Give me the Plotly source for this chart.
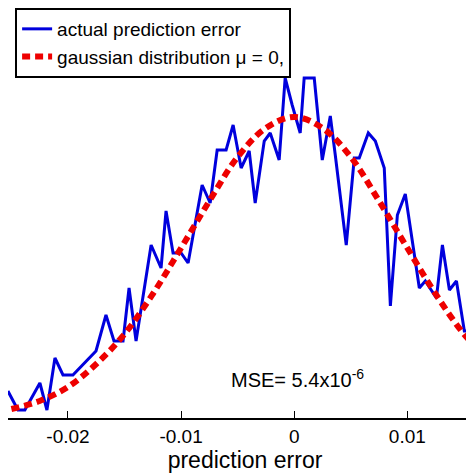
import plotly.graph_objects as go

# actual prediction error histogram
err = [-0.02531, -0.02442, -0.02381, -0.02248, -0.02186, -0.02115, -0.02044, -0.01956, -0.01752, -0.01664,
       -0.01593, -0.01513, -0.01460, -0.01398, -0.01265, -0.01177, -0.01133, -0.01071, -0.01000, -0.00938,
       -0.00814, -0.00743, -0.00681, -0.00602, -0.00540, -0.00469, -0.00398, -0.00345, -0.00265, -0.00212,
       -0.00133, -0.00080, -0.00018, 0.00053, 0.00088, 0.00177, 0.00248, 0.00319, 0.00363, 0.00460,
       0.00531, 0.00575, 0.00655, 0.00717, 0.00796, 0.00850, 0.00912, 0.00982, 0.01106, 0.01159,
       0.01257, 0.01310, 0.01372, 0.01434, 0.01504, 0.01566, 0.01628, 0.01664]
counts = [27, 8, 8, 35, 8, 60, 43, 43, 67, 103,
          77, 77, 130, 77, 173, 150, 207, 165, 165, 155,
          233, 215, 268, 268, 293, 250, 267, 215, 277, 285,
          258, 340, 313, 285, 340, 340, 258, 302, 263, 173,
          260, 260, 285, 277, 250, 112, 203, 224, 130, 137,
          120, 173, 128, 137, 87, 87, 103, 90]

# gaussian fit, sampled
gx = [-0.025, -0.0225, -0.02, -0.0175, -0.015, -0.0125, -0.01, -0.0075, -0.005, -0.0025,
      0.0, 0.0025, 0.005, 0.0075, 0.01, 0.0125, 0.015, 0.0175]
gy = [9, 17, 31, 54, 84, 124, 170, 217, 261, 290,
      301, 290, 261, 217, 170, 124, 84, 54]

fig = go.Figure()
fig.add_trace(go.Scatter(x=err, y=counts, mode="lines", name="actual prediction error",
                         line=dict(color="#0000dd", width=3)))
fig.add_trace(go.Scatter(x=gx, y=gy, mode="lines", name="gaussian distribution \u03bc = 0,",
                         line=dict(color="#ee0000", width=6, dash="8px,5px", shape="spline")))

fig.add_annotation(x=0.0003, y=40, text="MSE= 5.4x10<sup>-6</sup>", showarrow=False,
                   font=dict(family="Arial", size=20, color="black"))

fig.update_xaxes(range=[-0.0253, 0.0166], tickvals=[-0.02, -0.01, 0, 0.01],
                 ticktext=["-0.02", "-0.01", "0", "0.01"],
                 ticks="inside", ticklen=7, tickcolor="black", showgrid=False, zeroline=False,
                 showline=True, linecolor="black", linewidth=2,
                 title=dict(text="prediction error", font=dict(size=23, color="black"), standoff=4),
                 tickfont=dict(size=19, color="black"))
fig.update_yaxes(range=[0, 410], visible=False)
fig.update_layout(
    width=474, height=474,
    margin=dict(l=0, r=0, t=0, b=64),
    plot_bgcolor="white", paper_bgcolor="white",
    font=dict(family="Arial, Liberation Sans"),
    legend=dict(x=0.015, y=1, xanchor="left", yanchor="top", bordercolor="black", borderwidth=2,
                bgcolor="white", font=dict(size=19, color="black"), tracegroupgap=0),
)
fig.write_html("out.html")
